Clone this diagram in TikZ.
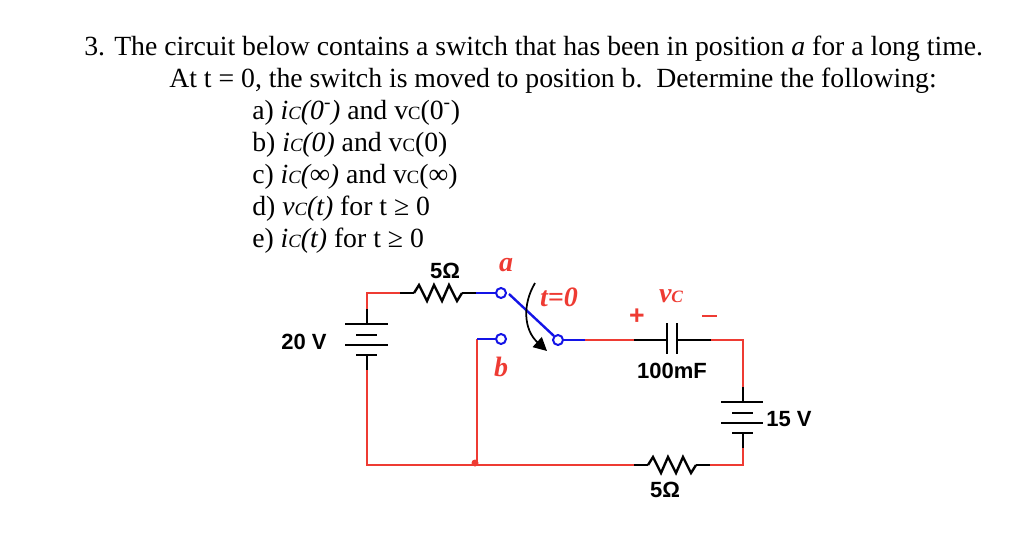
\documentclass[tikz,border=0pt]{standalone}
\usepackage{fontspec}
\setmainfont{Liberation Serif}
\setsansfont{Liberation Sans}
\usetikzlibrary{arrows.meta}
\definecolor{wirered}{HTML}{EE3B33}
\definecolor{wireblue}{HTML}{1414E6}
\tikzset{wire/.style={draw, line width=1.8pt, line join=miter}}
\tikzset{redwire/.style={wire, wirered}}
\tikzset{bluewire/.style={wire, wireblue}}
\tikzset{contact/.style={circle, draw=wireblue, line width=1.5pt, minimum size=7.5pt, inner sep=0pt, fill=white}}
\tikzset{prob/.style={anchor=base west, inner sep=0pt, font=\fontsize{20.8}{22}\selectfont}}
\tikzset{val/.style={inner sep=0pt, font=\sffamily\bfseries\fontsize{16.5}{18}\selectfont}}
\tikzset{redlab/.style={inner sep=0pt, wirered, font=\bfseries\itshape\fontsize{21}{22}\selectfont}}
\tikzset{zigzag/.pic={\draw[wire] (0,0) -- (5,-8) -- (13,8) -- (20,-8) -- (28,8) -- (35,-8) -- (43,8) -- (48,0);}}
\newcommand{\sC}{{\fontsize{14}{15}\selectfont C}}
\begin{document}
\begin{tikzpicture}[x=0.75pt, y=-0.75pt]
	\useasboundingbox (0,0) rectangle (1024,550);

	% problem text
	\node[prob] (line1) at (84,55){3. The circuit below contains a switch that has been in position \textit{a} for a long time.};
	\node[prob] (line2) at (169,87){At t = 0, the switch is moved to position b.\ \ Determine the following:};
	\node[prob] (parta) at (252,119){a) \textit{i\sC(0\textsuperscript{-})} and v\sC(0\textsuperscript{-})};
	\node[prob] (partb) at (252,151){b) \textit{i\sC(0)} and v\sC(0)};
	\node[prob] (partc) at (252,183){c) \textit{i\sC(∞)} and v\sC(∞)};
	\node[prob] (partd) at (252,215){d) \textit{v\sC(t)} for t ≥ 0};
	\node[prob] (parte) at (252,247){e) \textit{i\sC(t)} for t ≥ 0};

	% corners and wire ends
	\coordinate (TL) at (367,293);
	\coordinate (BL) at (367,465);
	\coordinate (BR) at (743,465);
	\coordinate (TR) at (743,340);
	\coordinate (J) at (477,465);
	\coordinate (Bb) at (477,339);
	\coordinate (R1l) at (414,293);
	\coordinate (R1r) at (462,293);
	\coordinate (R2l) at (648,465);
	\coordinate (R2r) at (696,465);

	\node[contact] (a) at (501,293){};
	\node[contact] (b) at (501,339){};
	\node[contact] (c) at (558,340){};
	\coordinate (S0) at (509,294);
	\coordinate (S1) at (554,336);

	% 20 V source
	\coordinate (V1a) at (367,324);
	\coordinate (V1b) at (367,355);
	\draw[wire] (345,324) -- (388,324);
	\draw[wire] (356,335) -- (377,335);
	\draw[wire] (345,345) -- (388,345);
	\draw[wire] (356,355) -- (377,355);

	% 15 V source
	\coordinate (V2a) at (743,402);
	\coordinate (V2b) at (743,433);
	\draw[wire] (721,402) -- (763,402);
	\draw[wire] (732,413) -- (753,413);
	\draw[wire] (721,423) -- (763,423);
	\draw[wire] (732,433) -- (753,433);

	% capacitor
	\coordinate (Cl) at (667,340);
	\coordinate (Cr) at (677,340);
	\draw[wire] (667,323) -- (667,354);
	\draw[wire] (677,323) -- (677,354);

	% red wires
	\draw[redwire] (400,293) -- (TL) -- (367,309);
	\draw[redwire] (367,370) -- (BL) -- (634,465);
	\draw[redwire] (710,465) -- (BR) -- (743,448);
	\draw[redwire] (743,387) -- (TR) -- (711,340);
	\draw[redwire] (634,340) -- (585,340);
	\draw[redwire] (J) -- (Bb);
	\fill[wirered] (475,463) circle (3.5);

	% black leads
	\draw[wire] (400,293) -- (R1l);
	\draw[wire] (R1r) -- (476,293);
	\draw[wire] (634,465) -- (R2l);
	\draw[wire] (R2r) -- (710,465);
	\draw[wire] (367,309) -- (V1a);
	\draw[wire] (V1b) -- (367,370);
	\draw[wire] (743,387) -- (V2a);
	\draw[wire] (V2b) -- (743,448);
	\draw[wire] (634,340) -- (Cl);
	\draw[wire] (Cr) -- (711,340);
	\pic at (R1l) {zigzag};
	\pic at (R2l) {zigzag};

	% switch
	\draw[bluewire] (476,293) -- (a);
	\draw[bluewire] (Bb) -- (b);
	\draw[bluewire] (c) -- (585,340);
	\draw[bluewire] (S0) -- (S1);
	\coordinate (Aa) at (535,283);
	\coordinate (Ab) at (547,351);
	\draw[wire, line width=1.3pt, -{Triangle[length=10pt,width=10pt]}] (Aa) .. controls (522,305) and (524,330) .. (Ab);

	% labels
	\node[val] (R1lab) at (445,271){5Ω};
	\node[val] (R2lab) at (665,490){5Ω};
	\node[val] (V1lab) at (304,342){20 V};
	\node[val] (V2lab) at (789,419){15 V};
	\node[val] (Clab) at (672,371){100mF};
	\node[redlab] (alab) at (506,265){a};
	\node[redlab] (blab) at (501,367){b};
	\node[redlab] (tlab) at (559,297){t=0};
	\node[redlab] (vlab) at (671,296){v{\fontsize{13}{14}\selectfont C}};
	\node[redlab, font=\sffamily\bfseries\fontsize{20}{22}\selectfont] (plus) at (637,317){+};
	\draw[redwire, line width=1.5pt] (702,316) -- (717,316);
\end{tikzpicture}
\end{document}
